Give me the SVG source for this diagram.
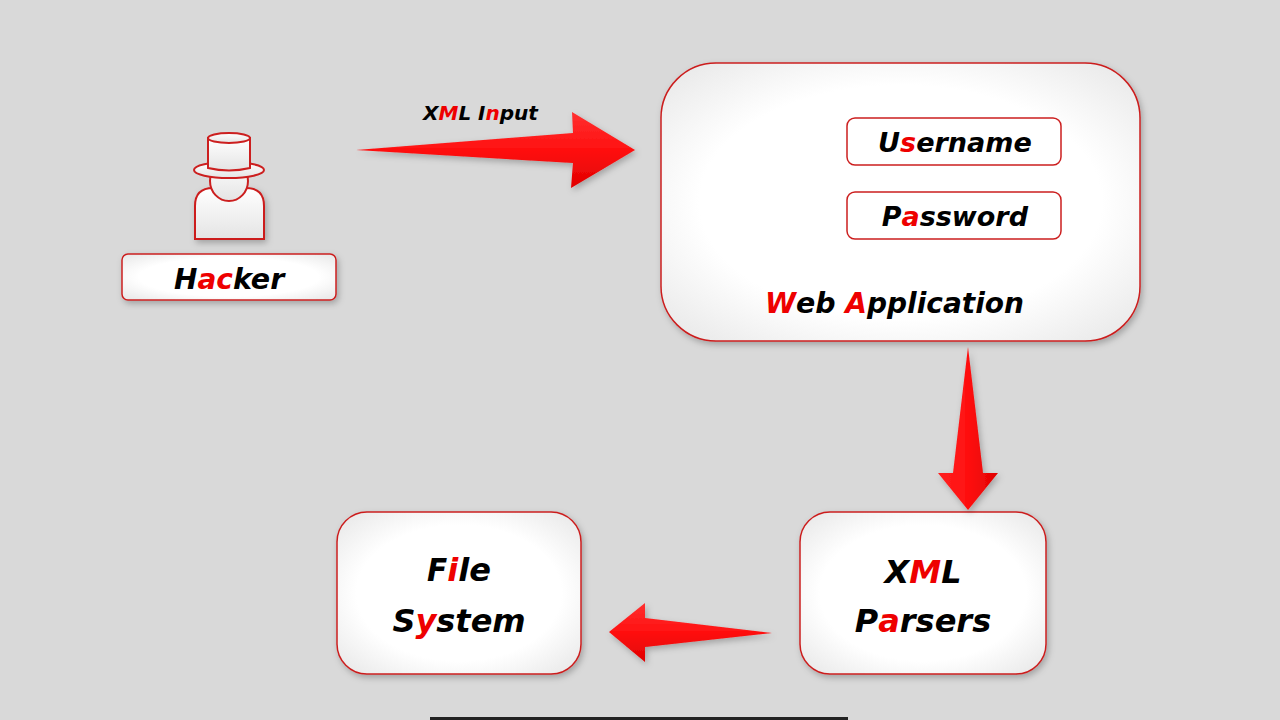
<svg xmlns="http://www.w3.org/2000/svg" width="1280" height="720" viewBox="0 0 1280 720">
<defs>
  <radialGradient id="boxFill" cx="50%" cy="50%" r="70%">
    <stop offset="0.6" stop-color="#ffffff"/>
    <stop offset="1" stop-color="#e6e6e6"/>
  </radialGradient>
  <linearGradient id="figFill" x1="0" y1="0" x2="0" y2="1">
    <stop offset="0" stop-color="#ffffff"/>
    <stop offset="1" stop-color="#e4e4e4"/>
  </linearGradient>
  <linearGradient id="arrowH" x1="0" y1="0" x2="0" y2="1">
    <stop offset="0" stop-color="#ff3030"/>
    <stop offset="0.5" stop-color="#ff1010"/>
    <stop offset="1" stop-color="#e00000"/>
  </linearGradient>
  <linearGradient id="arrowV" x1="0" y1="0" x2="1" y2="0">
    <stop offset="0" stop-color="#ff2020"/>
    <stop offset="0.5" stop-color="#ff1010"/>
    <stop offset="1" stop-color="#e00000"/>
  </linearGradient>
  <filter id="shadow" x="-10%" y="-10%" width="130%" height="130%">
    <feDropShadow dx="2" dy="3" stdDeviation="3" flood-color="#000" flood-opacity="0.25"/>
  </filter>
</defs>
<style>
  .box { fill: url(#boxFill); stroke: #cc1f1f; stroke-width: 1.5; }
  .field { fill: #ffffff; stroke: #cc1f1f; stroke-width: 1.5; }
  .fig { fill: url(#figFill); stroke: #cc1f1f; stroke-width: 2; }
  text { font-family: "DejaVu Sans", "Liberation Sans", sans-serif; font-weight: bold; font-style: italic; fill: #000; }
  text.r { fill: #ee0000; }
  .arrowH { fill: url(#arrowH); }
  .arrowV { fill: url(#arrowV); }
</style>
<rect x="0" y="0" width="1280" height="720" fill="#d9d9d9"/>

<g id="hacker">
  <path class="fig" d="M195,239 L195,206 Q195,188 213,188 L246,188 Q264,188 264,206 L264,239 Z" filter="url(#shadow)"/>
  <ellipse class="fig" cx="229" cy="181" rx="19" ry="20"/>
  <ellipse class="fig" cx="229" cy="170" rx="35" ry="8"/>
  <path class="fig" d="M208,138 L208,168 Q229,173 250,168 L250,138 Z"/>
  <ellipse class="fig" cx="229" cy="138" rx="21" ry="5"/>
  <rect class="box" x="122" y="254" width="214" height="46" rx="6" filter="url(#shadow)"/>
  <g font-size="28">
    <text x="174" y="289" textLength="23.4" lengthAdjust="spacingAndGlyphs">H</text>
    <text class="r" x="197.4" y="289" textLength="35.5" lengthAdjust="spacingAndGlyphs">ac</text>
    <text x="232.9" y="289" textLength="51.4" lengthAdjust="spacingAndGlyphs">ker</text>
  </g>
</g>

<g id="webapp">
  <rect class="box" x="661" y="63" width="479" height="278" rx="55" filter="url(#shadow)"/>
  <rect class="field" x="847" y="118" width="214" height="47" rx="8"/>
  <g font-size="27">
    <text x="878.1" y="152" textLength="22" lengthAdjust="spacingAndGlyphs">U</text>
    <text class="r" x="900.1" y="152" textLength="16.1" lengthAdjust="spacingAndGlyphs">s</text>
    <text x="916.2" y="152" textLength="115.6" lengthAdjust="spacingAndGlyphs">ername</text>
  </g>
  <rect class="field" x="847" y="192" width="214" height="47" rx="8"/>
  <g font-size="27">
    <text x="881.8" y="226" textLength="19.7" lengthAdjust="spacingAndGlyphs">P</text>
    <text class="r" x="901.5" y="226" textLength="18.2" lengthAdjust="spacingAndGlyphs">a</text>
    <text x="919.7" y="226" textLength="108.3" lengthAdjust="spacingAndGlyphs">ssword</text>
  </g>
  <g font-size="28">
    <text class="r" x="765" y="313" textLength="31" lengthAdjust="spacingAndGlyphs">W</text>
    <text x="796" y="313" textLength="39.6" lengthAdjust="spacingAndGlyphs">eb</text>
    <text class="r" x="845.3" y="313" textLength="21.7" lengthAdjust="spacingAndGlyphs">A</text>
    <text x="867" y="313" textLength="157" lengthAdjust="spacingAndGlyphs">pplication</text>
  </g>
</g>

<g id="parsers">
  <rect class="box" x="800" y="512" width="246" height="162" rx="30" filter="url(#shadow)"/>
  <g font-size="32">
    <text x="884.5" y="583" textLength="24.8" lengthAdjust="spacingAndGlyphs">X</text>
    <text class="r" x="909.3" y="583" textLength="31.9" lengthAdjust="spacingAndGlyphs">M</text>
    <text x="941.2" y="583" textLength="20.3" lengthAdjust="spacingAndGlyphs">L</text>
    <text x="854.8" y="632" textLength="23.4" lengthAdjust="spacingAndGlyphs">P</text>
    <text class="r" x="878.2" y="632" textLength="21.6" lengthAdjust="spacingAndGlyphs">a</text>
    <text x="899.8" y="632" textLength="91.4" lengthAdjust="spacingAndGlyphs">rsers</text>
  </g>
</g>

<g id="filesystem">
  <rect class="box" x="337" y="512" width="244" height="162" rx="30" filter="url(#shadow)"/>
  <g font-size="32">
    <text x="427.1" y="581" textLength="20.2" lengthAdjust="spacingAndGlyphs">F</text>
    <text class="r" x="447.3" y="581" textLength="11" lengthAdjust="spacingAndGlyphs">i</text>
    <text x="458.3" y="581" textLength="32.7" lengthAdjust="spacingAndGlyphs">le</text>
    <text x="392.4" y="632" textLength="23" lengthAdjust="spacingAndGlyphs">S</text>
    <text class="r" x="415.4" y="632" textLength="20.9" lengthAdjust="spacingAndGlyphs">y</text>
    <text x="436.3" y="632" textLength="89.4" lengthAdjust="spacingAndGlyphs">stem</text>
  </g>
</g>

<g id="connectors">
  <g filter="url(#shadow)">
    <polygon class="arrowH" points="356,150 573,133 572,112 635,150 571,188 573,163"/>
    <polygon class="arrowV" points="968,347 983,473 998,473 968,510 938,473 953,473"/>
    <polygon class="arrowH" points="772,633 645,618 645,603 609,632 645,662 645,647"/>
  </g>
  <g font-size="20">
    <text x="423" y="120" textLength="15.5" lengthAdjust="spacingAndGlyphs">X</text>
    <text class="r" x="438.5" y="120" textLength="19.9" lengthAdjust="spacingAndGlyphs">M</text>
    <text x="458.4" y="120" textLength="12.7" lengthAdjust="spacingAndGlyphs">L</text>
    <text x="478.1" y="120" textLength="7.3" lengthAdjust="spacingAndGlyphs">I</text>
    <text class="r" x="485.4" y="120" textLength="14.3" lengthAdjust="spacingAndGlyphs">n</text>
    <text x="499.7" y="120" textLength="38.2" lengthAdjust="spacingAndGlyphs">put</text>
  </g>
</g>

<rect x="430" y="717" width="418" height="3" fill="#222222"/>
</svg>
